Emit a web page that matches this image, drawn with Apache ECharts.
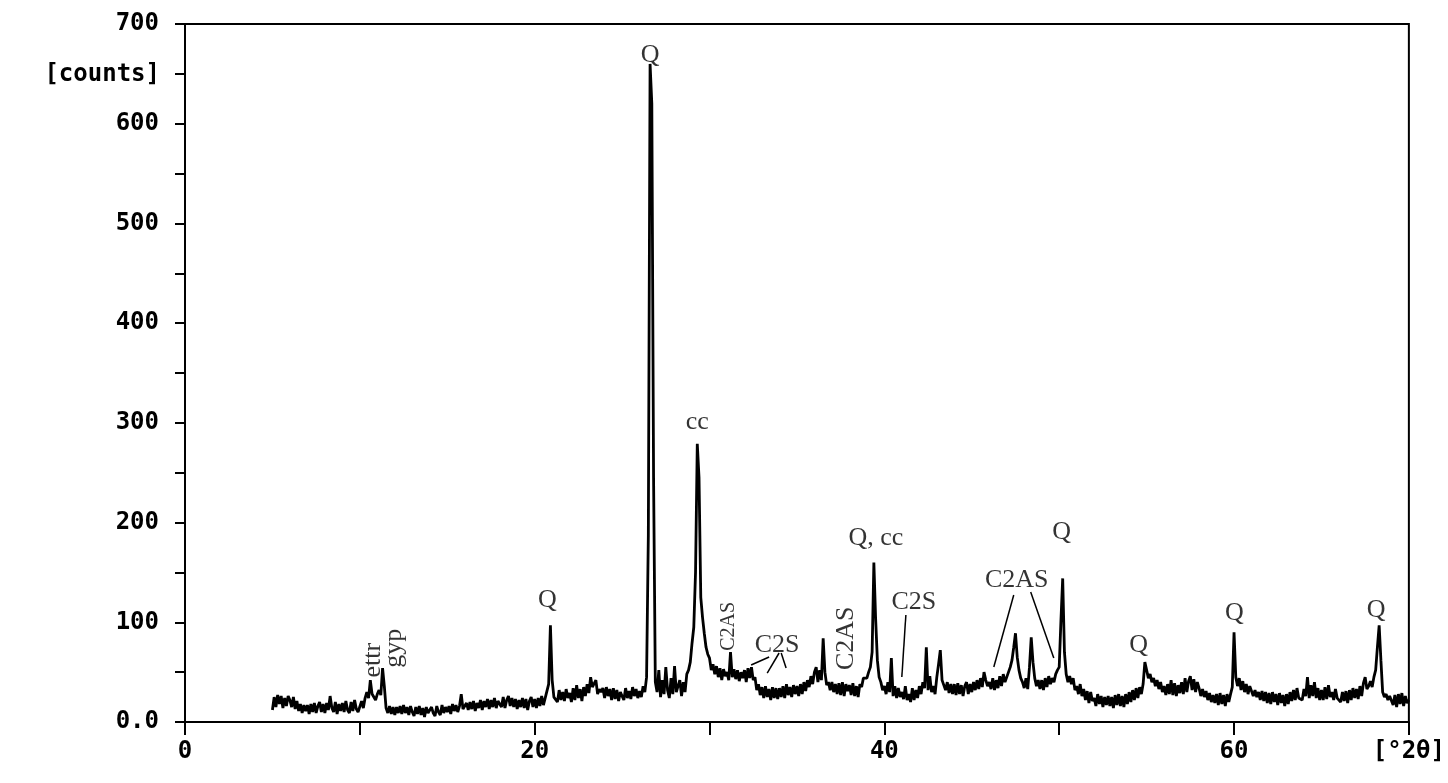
<!DOCTYPE html>
<html>
<head>
<meta charset="utf-8">
<script src="https://cdn.jsdelivr.net/npm/echarts@6/dist/echarts.min.js"></script>
<style>
html,body{margin:0;padding:0;background:#fff;}
#chart{width:1448px;height:783px;}
</style>
</head>
<body>
<div id="chart"></div>
<script>
// ---- data ----
const twoThetaStart = 5.0;   // first measured angle [°2θ]
const twoThetaStep = 0.1;    // sampling step [°2θ]
const counts = [
// 5.0 - 5.9
12,25,15,27,18,26,14,24,16,26,
// 6
22,15,25,13,21,11,18,9,17,11,
// 7
17,8,18,10,19,9,16,20,10,18,
// 8
9,19,12,26,14,10,20,8,18,11,
// 9
19,10,21,12,9,20,11,22,13,10,
// 10
12,21,14,24,30,24,42,28,29,22,
// 11
28,32,27,54,36,14,9,16,8,15,
// 12
7,15,9,16,8,17,9,15,7,16,
// 13
10,6,15,8,16,7,14,5,15,9,
// 14
7,15,9,6,16,10,7,17,9,15,
// 15
10,16,8,18,11,17,10,16,28,13,
// 16
11,19,12,20,13,21,11,19,14,22,
// 17
12,21,15,23,13,22,15,24,14,21,
// 18
23,15,25,14,22,26,16,24,15,23,
// 19
13,22,15,24,14,23,12,21,25,15,
// 20
23,14,24,16,26,17,15,31,38,97,
// 21
42,25,27,20,32,22,30,21,33,24,
// 22
29,20,34,22,37,24,33,21,35,26,
// 23
38,29,45,35,37,42,28,33,30,34,
// 24
24,35,26,33,22,34,23,32,21,30,
// 25
32,22,34,24,31,23,35,26,33,24,
// 26
31,25,36,30,45,186,660,620,245,40,
// 27
30,52,25,42,28,55,32,24,44,28,
// 28
56,30,36,42,26,40,30,48,52,60,
// 29
79,95,150,279,245,125,105,89,75,68,
// 30
64,52,58,48,56,45,54,42,53,46,
// 31
50,42,70,45,53,43,52,41,50,44,
// 32
52,40,54,44,55,42,45,32,38,27,
// 33
35,24,36,25,33,22,35,24,34,23,
// 34
34,25,36,24,38,27,35,25,37,28,
// 35
36,26,38,28,40,31,42,35,46,38,
// 36
50,55,40,52,42,84,50,37,40,32,
// 37
40,30,38,28,39,27,40,26,38,31,
// 38
37,27,39,26,36,25,38,35,44,42,
// 39
44,50,55,70,160,104,62,45,40,32,
// 40
36,28,40,30,64,26,36,24,34,25,
// 41
30,23,36,22,28,20,34,22,32,24,
// 42
36,28,40,34,75,32,46,30,36,28,
// 43
45,58,72,42,44,32,40,29,38,28,
// 44
38,27,39,28,37,26,36,40,28,38,
// 45
30,40,32,42,33,44,35,50,42,36,
// 46
40,33,44,32,42,34,46,36,48,40,
// 47
45,50,55,62,75,89,65,52,44,40,
// 48
34,44,33,55,85,60,44,36,42,33,
// 49
42,32,44,35,46,38,44,40,48,52,
// 50
55,102,144,70,48,40,46,38,44,32,
// 51
36,28,38,26,33,22,31,19,30,21,
// 52
24,16,28,18,26,15,25,17,26,16,
// 53
25,14,27,17,28,16,26,15,28,18,
// 54
30,20,32,22,34,24,35,28,38,60,
// 55
52,44,48,40,44,36,42,33,40,30,
// 56
36,27,38,28,42,27,39,26,37,29,
// 57
40,28,44,30,41,46,32,43,30,40,
// 58
34,26,33,25,31,22,29,20,27,19,
// 59
28,17,29,18,27,16,28,20,28,35,
// 60
90,45,36,44,32,41,30,38,28,36,
// 61
34,26,32,25,30,22,31,21,30,19,
// 62
29,18,30,20,28,17,29,19,27,16,
// 63
28,18,30,21,32,22,34,24,26,22,
// 64
33,26,45,24,37,26,40,24,34,22,
// 65
32,22,35,23,37,25,30,22,33,24,
// 66
26,20,30,21,31,19,32,22,34,24,
// 67
33,23,36,26,39,45,33,36,41,35,
// 68
45,52,75,97,62,30,25,28,22,26,
// 69
24,17,27,15,28,18,29,16,26,19,
// 70
22
];

// y tick labels / x tick labels
const yTicks = [0, 100, 200, 300, 400, 500, 600, 700];
const xTickLabels = {0: '0', 20: '20', 40: '40', 60: '60', 70: '[°2θ]'};
const yUnitLabel = '[counts]';

// peak annotations: text, position (°2θ, counts), rotation (deg), font size
const annText = ['Q', 'cc', 'Q, cc', 'C2AS', 'C2S', 'C2AS', 'C2S', 'C2AS', 'Q', 'Q', 'Q', 'Q', 'Q', 'ettr', 'gyp'];
const annX    = [26.61, 29.3, 39.52, 31.12, 33.87, 37.81, 41.69, 47.57, 50.14, 54.54, 60.02, 68.13, 20.73, 10.74, 11.99];
const annY    = [669, 301, 184.5, 96, 77, 84, 120, 142, 190.6, 77, 109, 112, 122, 62, 74];
const annRot  = [0, 0, 0, 90, 0, 90, 0, 0, 0, 0, 0, 0, 0, 90, 90];
const annSize = [26, 26, 26, 20, 26, 26, 26, 26, 26, 26, 26, 26, 26, 26, 26];

// leader lines: [x1, y1, x2, y2] in (°2θ, counts)
const leaderLines = [
  [32.38, 57.2, 33.41, 65.2],
  [33.30, 49.1, 33.98, 69.2],
  [34.10, 69.2, 34.38, 54.2],
  [41.23, 107.3, 41.0, 45.1],
  [47.40, 127.4, 46.26, 55.2],
  [48.37, 130.4, 49.69, 64.2]
];

// ---- build ----
const lineData = counts.map((c, i) => [+(twoThetaStart + i * twoThetaStep).toFixed(2), c]);
const annData = annText.map((t, i) => ({
  name: t,
  value: [annX[i], annY[i]],
  label: {rotate: annRot[i], fontSize: annSize[i]}
}));
const lineSegs = leaderLines.map(l => ({coords: [[l[0], l[1]], [l[2], l[3]]]}));

const axisFont = {fontFamily: 'DejaVu Sans Mono', fontWeight: 'bold', fontSize: 24, color: '#000'};

const chart = echarts.init(document.getElementById('chart'));
chart.setOption({
  animation: false,
  backgroundColor: '#fff',
  grid: {left: 185, right: 37, top: 24, bottom: 61, show: true, borderColor: '#000', borderWidth: 2, backgroundColor: 'transparent'},
  xAxis: {
    type: 'value', min: 0, max: 70, interval: 10,
    axisLine: {onZero: false, lineStyle: {color: '#000', width: 2}},
    axisTick: {length: 13, lineStyle: {color: '#000', width: 2}},
    splitLine: {show: false},
    axisLabel: Object.assign({}, axisFont, {
      margin: 18, showMaxLabel: true, showMinLabel: true,
      formatter: v => (xTickLabels[v] !== undefined ? xTickLabels[v] : '')
    })
  },
  yAxis: {
    type: 'value', min: yTicks[0], max: yTicks[yTicks.length - 1], interval: 100,
    axisLine: {onZero: false, lineStyle: {color: '#000', width: 2}},
    axisTick: {length: 10, lineStyle: {color: '#000', width: 2}},
    minorTick: {show: true, splitNumber: 2, length: 10, lineStyle: {color: '#000', width: 2}},
    splitLine: {show: false},
    axisLabel: Object.assign({}, axisFont, {
      margin: 26,
      formatter: v => (v === 0 ? '0.0' : String(v))
    })
  },
  graphic: [{
    type: 'text', right: 1448 - 160, top: 63,
    style: {text: yUnitLabel, font: 'bold 24px "DejaVu Sans Mono"', fill: '#000'}
  }],
  series: [
    {
      type: 'line', data: lineData, showSymbol: false, symbol: 'none',
      lineStyle: {color: '#000', width: 2.8}, silent: true, z: 3
    },
    {
      type: 'scatter', data: annData, symbolSize: 0, silent: true, z: 4,
      label: {
        show: true, position: 'inside', formatter: p => p.name,
        fontFamily: 'Liberation Serif', color: '#000', fontSize: 26, textBorderWidth: 0
      }
    },
    {
      type: 'lines', coordinateSystem: 'cartesian2d', data: lineSegs, silent: true, z: 4,
      lineStyle: {color: '#000', width: 1.5, opacity: 1, curveness: 0},
      effect: {show: false}
    }
  ]
});
</script>
</body>
</html>
